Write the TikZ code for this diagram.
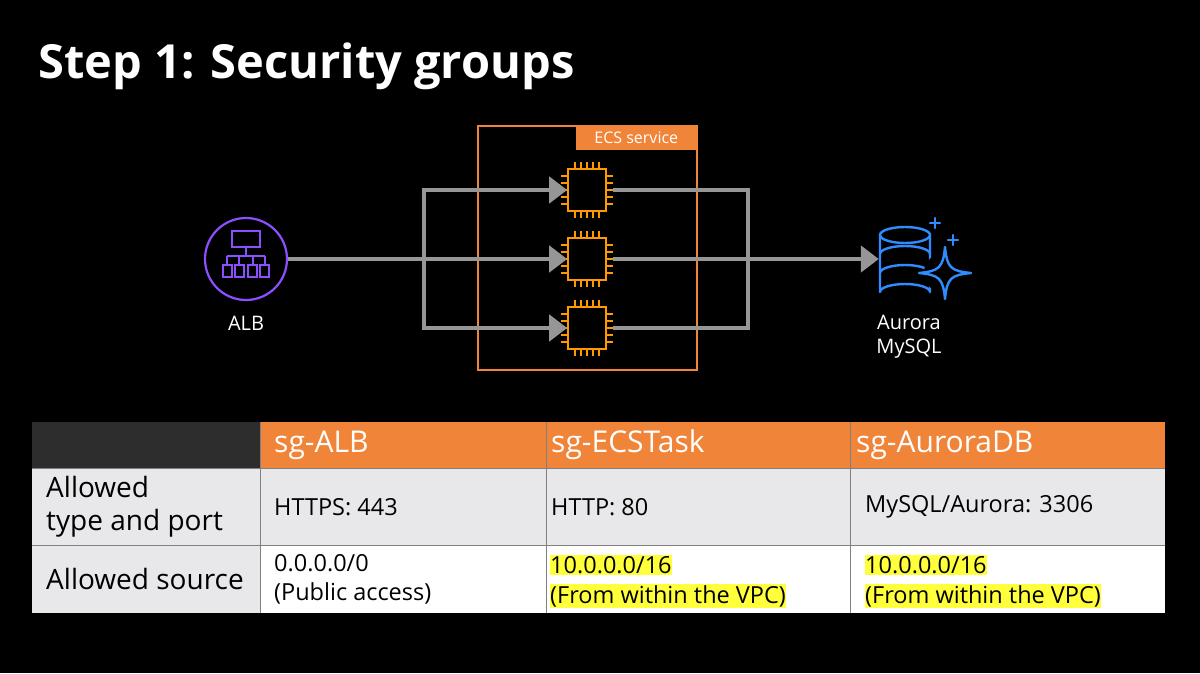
\documentclass[tikz,border=0pt]{standalone}
\usepackage{fontspec}
\setmainfont{Open Sans}
\usetikzlibrary{arrows.meta,positioning}
\definecolor{awsorange}{RGB}{240,133,58}
\definecolor{chiporange}{RGB}{255,153,0}
\definecolor{albpurple}{RGB}{140,79,255}
\definecolor{dbblue}{RGB}{46,140,255}
\definecolor{flowgray}{RGB}{150,150,150}
\definecolor{cellgray}{RGB}{232,232,234}
\definecolor{headdark}{RGB}{45,45,45}
\definecolor{hiyellow}{RGB}{255,255,60}
\tikzset{
  flow/.style={draw=flowgray, line width=4.5pt},
  flow-arrow/.style={flow, -{Triangle[length=18pt,width=26pt]}},
  chip/.style={draw=chiporange, line width=1.6pt, minimum width=38pt, minimum height=42pt, inner sep=0pt},
  pin/.style={draw=chiporange, line width=1.4pt},
  db-line/.style={draw=dbblue, line width=2.4pt, line cap=round, line join=round},
  label-white/.style={text=white, font=\fontsize{20}{24}\selectfont, align=center},
  cell/.style={font=\fontsize{28}{33}\selectfont, anchor=west, inner sep=0pt, align=left},
  cell-small/.style={cell, font=\fontsize{23.5}{29}\selectfont},
  cell-head/.style={text=white, font=\fontsize{30}{34}\selectfont, anchor=west, inner sep=0pt},
  hl/.style={cell-small, fill=hiyellow, inner ysep=1pt}
}
\newcommand{\chippins}[1]{
  \foreach \d in {-12,-6,0,6,12}{
    \draw[pin] ([xshift=\d pt]#1.north) -- ++(0,-6);
    \draw[pin] ([xshift=\d pt]#1.south) -- ++(0,6);
  }
  \foreach \d in {-14,-7,0,7,14}{
    \draw[pin] ([yshift=\d pt]#1.west) -- ++(-6,0);
    \draw[pin] ([yshift=\d pt]#1.east) -- ++(6,0);
  }
}
\begin{document}
\begin{tikzpicture}[x=1pt,y=-1pt]
  \fill[black] (0,0) rectangle (1200,673);
  \useasboundingbox (0,0) rectangle (1200,673);
  % Title
  \node[anchor=base west, text=white, inner sep=0pt, font=\bfseries\fontsize{47}{52}\selectfont] (title) at (38,78) {Step 1: Security groups};

  % ECS service frame
  \draw[awsorange, line width=1.2pt] (478,126) rectangle (697,370);
  \node[fill=awsorange, text=white, anchor=north east, minimum width=121pt, minimum height=24pt, inner sep=0pt, font=\fontsize{16}{18}\selectfont] (ecs) at (697,126) {ECS service};

  % ALB
  \node[circle, draw=albpurple, line width=2.2pt, minimum size=82pt] (alb) at (246,259) {};
  \begin{scope}[albpurple, line width=1.8pt]
    \draw (232,231) rectangle (260,247);
    \draw (246,247) -- (246,256) (227,256) -- (265,256) (227,256) -- (227,265) (265,256) -- (265,265);
    \draw (239,256) -- (239,265) (253,256) -- (253,265);
    \foreach \x in {223,235,248,260}{ \draw (\x,265) rectangle ++(9,12); }
  \end{scope}
  \node[label-white, below=12pt of alb] (alblabel) {ALB};

  % Tasks
  \node[chip] (task1) at (587,190) {};
  \node[chip] (task2) at (587,259) {};
  \node[chip] (task3) at (587,328) {};
  \chippins{task1}
  \chippins{task2}
  \chippins{task3}

  % Aurora
  \node[minimum width=52pt, minimum height=74pt, inner sep=0pt] (db) at (905,259) {};
  \begin{scope}[db-line]
    \draw (905,235) ellipse (25 and 8);
    \draw (880,235) -- (880,292) arc (180:360:25 and 8) -- (930,235);
    \draw (880,254) arc (180:360:25 and 8);
    \draw (880,273) arc (180:360:25 and 8);
    \fill[black] (944,273) circle (20);
    \draw (945,247) .. controls (947,268) and (951,271) .. (971,273)
                    .. controls (951,275) and (947,278) .. (945,299)
                    .. controls (943,278) and (939,275) .. (919,273)
                    .. controls (939,271) and (943,268) .. cycle;
    \draw (935,218) -- (935,228) (930,223) -- (940,223);
    \draw (953,235) -- (953,245) (948,240) -- (958,240);
  \end{scope}
  \node[label-white, anchor=north] (dblabel) at (909,312) {Aurora\\MySQL};

  % Connectors
  \coordinate (split) at (424,259);
  \coordinate (join) at (748,259);
  \draw[flow-arrow] (alb) -- (task2);
  \draw[flow-arrow] (split) |- (task1);
  \draw[flow-arrow] (split) |- (task3);
  \draw[flow] (task1.east) ++(6,0) -| (join);
  \draw[flow] (task3.east) ++(6,0) -| (join);
  \draw[flow-arrow] ([xshift=6pt]task2.east) -- (db.west);

  % Table
  \fill[headdark] (32,422) rectangle (260,468);
  \fill[awsorange] (260,422) rectangle (1165,468);
  \fill[cellgray] (32,468) rectangle (1165,545);
  \fill[cellgray] (32,545) rectangle (260,613);
  \fill[white] (260,545) rectangle (1165,613);
  \draw[gray, line width=1pt] (32,468) -- (1165,468) (32,545) -- (1165,545);
  \foreach \x in {260,546,850}{ \draw[gray, line width=1pt] (\x,422) -- (\x,613); }
  \node[cell-head] (h1) at (274,445) {sg-ALB};
  \node[cell-head] (h2) at (551,445) {sg-ECSTask};
  \node[cell-head] (h3) at (856,445) {sg-AuroraDB};
  \node[cell] (r1) at (46,507) {Allowed\\type and port};
  \node[cell] (r2) at (46,579) {Allowed source};
  \node[cell-small] (c11) at (274,507) {HTTPS: 443};
  \node[cell-small] (c12) at (551,507) {HTTP: 80};
  \node[cell-small] (c13) at (865,507) {MySQL/Aurora: 3306};
  \node[cell-small] (c21) at (274,579) {0.0.0.0/0\\(Public access)};
  \node[hl] (c22a) at (550,565) {10.0.0.0/16};
  \node[hl] (c22b) at (550,596) {(From within the VPC)};
  \node[hl] (c23a) at (865,565) {10.0.0.0/16};
  \node[hl] (c23b) at (865,596) {(From within the VPC)};
\end{tikzpicture}
\end{document}
